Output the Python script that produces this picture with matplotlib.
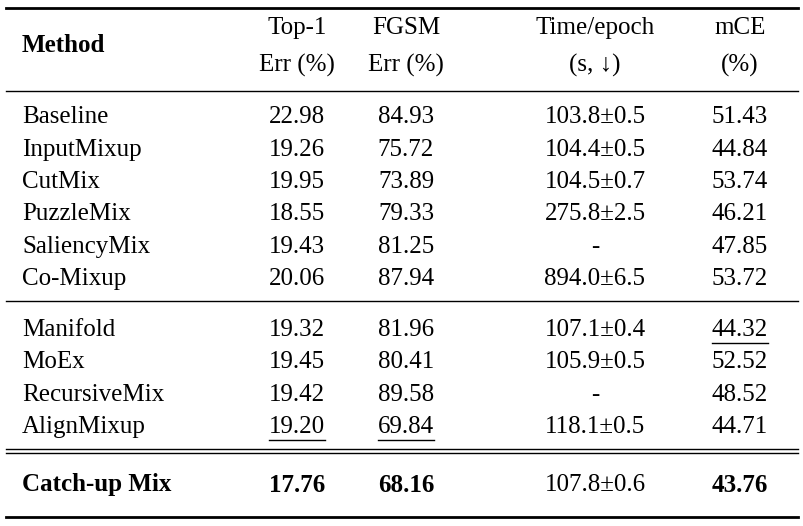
import matplotlib.pyplot as plt

methods = ["Baseline", "InputMixup", "CutMix", "PuzzleMix", "SaliencyMix", "Co-Mixup",
           "Manifold", "MoEx", "RecursiveMix", "AlignMixup", "Catch-up Mix"]
top1 = ["22.98", "19.26", "19.95", "18.55", "19.43", "20.06",
        "19.32", "19.45", "19.42", "19.20", "17.76"]
fgsm = ["84.93", "75.72", "73.89", "79.33", "81.25", "87.94",
        "81.96", "80.41", "89.58", "69.84", "68.16"]
time_ep = ["103.8±0.5", "104.4±0.5", "104.5±0.7", "275.8±2.5", "-", "894.0±6.5",
           "107.1±0.4", "105.9±0.5", "-", "118.1±0.5", "107.8±0.6"]
mce = ["51.43", "44.84", "53.74", "46.21", "47.85", "53.72",
       "44.32", "52.52", "48.52", "44.71", "43.76"]
underlined = {(9, 1), (9, 2), (6, 4)}
bold_cells = {(10, 0), (10, 1), (10, 2), (10, 4)}

plt.rcParams["font.family"] = ["Liberation Serif", "DejaVu Serif"]
fig = plt.figure(figsize=(8.04, 5.26), dpi=100)
ax = fig.add_axes([0, 0, 1, 1])
ax.set_xlim(0, 804)
ax.set_ylim(526, 0)
ax.axis("off")

fs = 18
col_x = [22, 297, 406, 595, 740]
ax.text(22, 46, "Method", fontsize=fs, fontweight="bold", va="center", ha="left")
heads = [("Top-1", "Err (%)"), ("FGSM", "Err (%)"), ("Time/epoch", "(s, ↓)"), ("mCE", "(%)")]
for x, (a, b) in zip(col_x[1:], heads):
    ax.text(x, 28, a, fontsize=fs, ha="center", va="center")
    ax.text(x, 65, b, fontsize=fs, ha="center", va="center")

ys = [117, 150, 182, 214, 247, 279, 330, 362, 395, 427, 485]
fig.canvas.draw()
r = fig.canvas.get_renderer()
for i, y in enumerate(ys):
    row = [methods[i], top1[i], fgsm[i], time_ep[i], mce[i]]
    for j, s in enumerate(row):
        t = ax.text(col_x[j], y, s, fontsize=fs, va="center",
                    ha="left" if j == 0 else "center",
                    fontweight="bold" if (i, j) in bold_cells else "normal")
        if (i, j) in underlined:
            bb = t.get_window_extent(r)
            ax.plot([bb.x0, bb.x1], [y + 13, y + 13], color="black", lw=1)

for y, lw in [(8, 2), (91, 1), (301, 1), (449, 1), (453, 1), (517, 2)]:
    ax.plot([6, 798], [y, y], color="black", lw=lw)

fig.savefig("out.png", dpi=100)
